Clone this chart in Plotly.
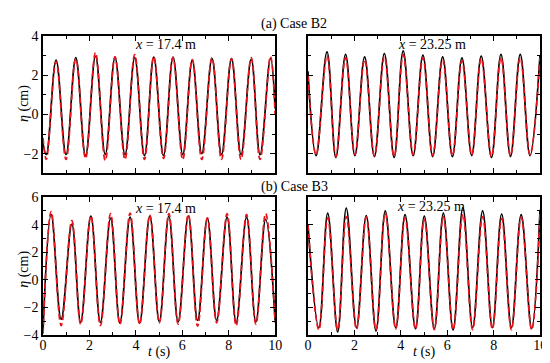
import plotly.graph_objects as go

# ---- data (extrema) ----
t_b2_174 = [0, 0.14, 0.56, 0.99, 1.41, 1.83, 2.26, 2.68, 3.10, 3.53, 3.95, 4.37, 4.77, 5.19, 5.60, 6.02, 6.43, 6.84, 7.28, 7.69, 8.12, 8.53, 8.97, 9.35, 9.80, 10.0]
meas_b2_174 = [-1.5, -2.05, 2.78, -2.05, 2.9, -2.1, 2.97, -2.05, 2.9, -2.05, 2.9, -2.1, 2.93, -2.1, 2.93, -2.05, 2.77, -2.0, 2.85, -2.05, 2.85, -2.05, 2.82, -2.05, 2.88, 0.3]
sim_b2_174 = [-1.2, -2.3, 2.7, -2.3, 2.85, -2.25, 3.15, -2.35, 2.95, -2.3, 3.05, -2.3, 2.95, -2.25, 2.9, -2.3, 2.8, -2.3, 2.9, -2.3, 2.85, -2.3, 2.9, -2.3, 2.95, 0.0]

t_b2_2325 = [0, 0.35, 0.82, 1.20, 1.62, 2.02, 2.44, 2.86, 3.29, 3.71, 4.10, 4.53, 4.95, 5.37, 5.80, 6.22, 6.63, 7.05, 7.46, 7.90, 8.31, 8.72, 9.14, 9.56, 9.99]
meas_b2_2325 = [2.2, -2.1, 3.19, -2.2, 3.07, -2.1, 2.94, -2.15, 3.11, -2.2, 3.24, -2.1, 3.03, -2.15, 2.94, -2.15, 2.89, -2.1, 2.98, -2.2, 3.07, -2.15, 3.07, -2.1, 3.03]
sim_b2_2325 = [2.0, -2.05, 3.0, -2.15, 2.9, -2.05, 2.8, -2.1, 2.95, -2.15, 3.05, -2.05, 2.9, -2.1, 2.8, -2.1, 2.75, -2.05, 2.85, -2.15, 2.9, -2.1, 2.9, -2.05, 2.9]

t_b3_174 = [0, 0.35, 0.78, 1.24, 1.62, 2.06, 2.47, 2.91, 3.31, 3.75, 4.16, 4.60, 5.01, 5.42, 5.82, 6.26, 6.66, 7.08, 7.48, 7.93, 8.32, 8.77, 9.17, 9.59, 10.0]
meas_b3_174 = [-3.6, 4.73, -2.84, 4.04, -3.07, 4.62, -3.07, 4.46, -3.12, 4.55, -3.12, 4.62, -3.03, 4.62, -3.03, 4.62, -2.93, 4.46, -2.93, 4.55, -3.07, 4.55, -3.03, 4.39, -2.95]
sim_b3_174 = [-3.9, 4.95, -3.3, 4.3, -3.2, 4.65, -3.3, 4.8, -3.2, 4.85, -3.2, 4.7, -3.1, 4.8, -3.2, 4.75, -3.35, 4.5, -3.1, 4.8, -3.3, 4.75, -3.2, 4.8, -3.1]

t_b3_2325 = [0, 0.47, 0.85, 1.28, 1.65, 2.09, 2.51, 2.93, 3.33, 3.78, 4.18, 4.63, 5.01, 5.44, 5.83, 6.25, 6.67, 7.09, 7.52, 7.94, 8.34, 8.76, 9.18, 9.63, 9.99]
meas_b3_2325 = [4.0, -3.46, 4.85, -3.76, 5.2, -3.46, 4.67, -3.7, 5.01, -3.46, 4.73, -3.53, 4.62, -3.53, 4.85, -3.62, 5.24, -3.46, 5.01, -3.46, 4.78, -3.46, 4.73, -3.53, 5.08]
sim_b3_2325 = [4.0, -3.6, 4.5, -3.6, 4.6, -3.55, 4.55, -3.6, 4.85, -3.55, 4.5, -3.55, 4.4, -3.6, 4.6, -3.6, 4.75, -3.6, 4.6, -3.55, 4.45, -3.6, 4.55, -3.6, 4.8]

panel_titles = ["<i>x</i> = 17.4 m", "<i>x</i> = 23.25 m", "<i>x</i> = 17.4 m", "<i>x</i> = 23.25 m"]
case_titles = ["(a) Case B2", "(b) Case B3"]
x_ticks = [0, 2, 4, 6, 8, 10]

panels = [
    (t_b2_174, meas_b2_174, sim_b2_174),
    (t_b2_2325, meas_b2_2325, sim_b2_2325),
    (t_b3_174, meas_b3_174, sim_b3_174),
    (t_b3_2325, meas_b3_2325, sim_b3_2325),
]

FONT = "Liberation Serif"
FS = 14
W, H = 550, 363
xdom = [(31.7 / W, 268.5 / W), (302 / W, 539 / W)]
ydom = [(1 - 165 / H, 1 - 22 / H), (1 - 334 / H, 1 - 190 / H)]
yranges = [[-3, 4], [-4, 6]]

fig = go.Figure()
layout = dict(width=W, height=H, margin=dict(l=0, r=0, t=0, b=0),
              paper_bgcolor="white", plot_bgcolor="white", showlegend=False,
              font=dict(family=FONT, size=FS, color="black"))

for i, (t, m, s) in enumerate(panels):
    row, col = divmod(i, 2)
    k = "" if i == 0 else str(i + 1)
    xa, ya = "x" + k, "y" + k
    fig.add_trace(go.Scatter(x=t, y=m, mode="lines", xaxis=xa, yaxis=ya,
                             line=dict(color="black", width=1.7, shape="spline", smoothing=1.1)))
    fig.add_trace(go.Scatter(x=t, y=s, mode="lines", xaxis=xa, yaxis=ya,
                             line=dict(color="#e8141b", width=1.7, dash="6px,3px", shape="spline", smoothing=1.1)))
    common = dict(showline=True, linecolor="black", linewidth=1.5, mirror="allticks",
                  ticks="inside", ticklen=5, tickwidth=1, tickcolor="black",
                  showgrid=False, zeroline=False,
                  tickfont=dict(family=FONT, size=FS, color="black"))
    layout["xaxis" + k] = dict(common, domain=xdom[col], range=[0, 10], anchor=ya,
                               tickvals=x_ticks, showticklabels=(row == 1), ticklabelstandoff=-4,
                               minor=dict(ticks="inside", ticklen=3, dtick=1, tick0=0, tickcolor="black"))
    layout["yaxis" + k] = dict(common, domain=ydom[row], range=yranges[row], anchor=xa,
                               dtick=2, tick0=0, showticklabels=(col == 0),
                               minor=dict(ticks="inside", ticklen=3, dtick=1, tick0=0, tickcolor="black"))

ann = []
pos = [(157, 31), (429, 31), (157, 202), (428, 200)]
for i, (px, py) in enumerate(pos):
    ann.append(dict(x=px / W, y=1 - py / H, xref="paper", yref="paper", text=panel_titles[i],
                    showarrow=False, xanchor="center", yanchor="middle", font=dict(size=FS)))
ann.append(dict(x=288 / W, y=1 - 9 / H, xref="paper", yref="paper", text=case_titles[0],
                showarrow=False, xanchor="center", yanchor="middle", font=dict(size=FS)))
ann.append(dict(x=288 / W, y=1 - 179 / H, xref="paper", yref="paper", text=case_titles[1],
                showarrow=False, xanchor="center", yanchor="middle", font=dict(size=FS)))
for py in [92, 265]:
    ann.append(dict(x=12 / W, y=1 - py / H, xref="paper", yref="paper", text="<i>η</i> (cm)",
                    showarrow=False, xanchor="center", yanchor="middle", textangle=-90, font=dict(size=FS)))
for px in [150, 421]:
    ann.append(dict(x=px / W, y=1 - 352 / H, xref="paper", yref="paper", text="<i>t</i> (s)",
                    showarrow=False, xanchor="center", yanchor="middle", font=dict(size=FS)))
layout["annotations"] = ann
fig.update_layout(**layout)
fig.write_html("out.html")
